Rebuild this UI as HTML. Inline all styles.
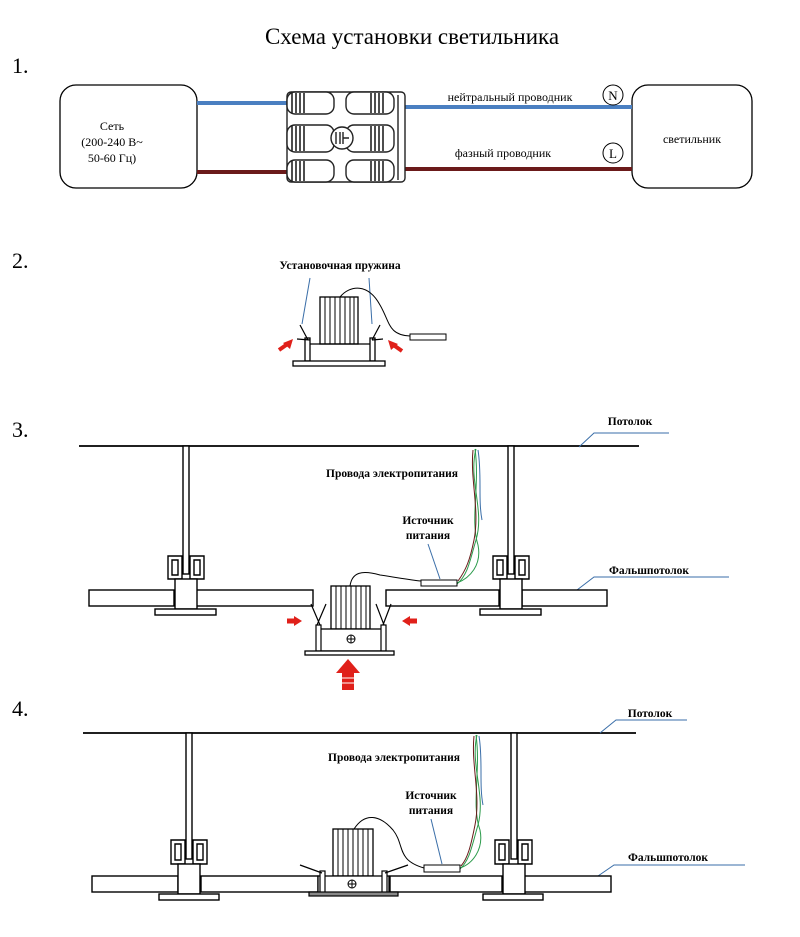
<!DOCTYPE html>
<html><head><meta charset="utf-8"><style>
html,body{margin:0;padding:0;background:#fff;}
svg{display:block;}
text{font-family:"Liberation Serif",serif;fill:#000;}
.b{font-weight:bold;font-size:11.5px;}
</style></head><body>
<svg width="800" height="937" viewBox="0 0 800 937" xmlns="http://www.w3.org/2000/svg">
<text x="412" y="44" font-size="23" text-anchor="middle">Схема установки светильника</text>
<text x="12" y="73" font-size="22">1.</text>
<text x="12" y="268" font-size="22">2.</text>
<text x="12" y="437" font-size="22">3.</text>
<text x="12" y="716" font-size="22">4.</text>

<!-- Section 1 -->
<rect x="60" y="85" width="137" height="103" rx="16" fill="none" stroke="#000" stroke-width="1.3"/>
<text x="112" y="130" font-size="12" text-anchor="middle">Сеть</text>
<text x="112" y="146" font-size="12" text-anchor="middle">(200-240 В~</text>
<text x="112" y="162" font-size="12" text-anchor="middle">50-60 Гц)</text>
<rect x="632" y="85" width="120" height="103" rx="16" fill="none" stroke="#000" stroke-width="1.3"/>
<text x="692" y="143" font-size="12" text-anchor="middle">светильник</text>
<line x1="197" y1="103" x2="287" y2="103" stroke="#4a7fc1" stroke-width="4"/>
<line x1="197" y1="172" x2="287" y2="172" stroke="#6b1a1a" stroke-width="4"/>
<line x1="403" y1="107" x2="632" y2="107" stroke="#4a7fc1" stroke-width="4"/>
<line x1="403" y1="169" x2="632" y2="169" stroke="#6b1a1a" stroke-width="4"/>
<text x="510" y="101" font-size="12" text-anchor="middle">нейтральный проводник</text>
<text x="503" y="157" font-size="12" text-anchor="middle">фазный проводник</text>
<circle cx="613" cy="95" r="10" fill="none" stroke="#000"/>
<text x="613" y="100" font-size="13" text-anchor="middle">N</text>
<circle cx="613" cy="153" r="10" fill="none" stroke="#000"/>
<text x="613" y="158" font-size="13" text-anchor="middle">L</text>
<!-- connector -->
<g fill="#fff" stroke="#222" stroke-width="1.4">
<rect x="287" y="92" width="118" height="90" rx="4"/>
<rect x="287" y="92" width="47" height="22" rx="8"/>
<rect x="346" y="92" width="48" height="22" rx="8"/>
<rect x="287" y="125" width="47" height="27" rx="8"/>
<rect x="346" y="125" width="48" height="27" rx="8"/>
<rect x="287" y="160" width="47" height="22" rx="8"/>
<rect x="346" y="160" width="48" height="22" rx="8"/>
<line x1="398" y1="95" x2="398" y2="180"/>
</g>
<g stroke="#222" stroke-width="1.6">
<path d="M292 93v20M296 93v20M300 93v20M304 93v20M292 126v25M296 126v25M300 126v25M304 126v25M292 161v20M296 161v20M300 161v20M304 161v20"/>
<path d="M371 93v20M375 93v20M379 93v20M383 93v20M371 126v25M375 126v25M379 126v25M383 126v25M371 161v20M375 161v20M379 161v20M383 161v20"/>
</g>
<circle cx="342" cy="138" r="11" fill="#fff" stroke="#222" stroke-width="1.4"/>
<path d="M336 132v12M340 132v12M343 132v12M343 138h6" stroke="#222" stroke-width="1.4" fill="none"/>

<!-- Section 2 -->
<text x="340" y="269" class="b" text-anchor="middle">Установочная пружина</text>
<line x1="310" y1="278" x2="302" y2="324" stroke="#3a6ea8"/>
<line x1="369" y1="278" x2="372" y2="324" stroke="#3a6ea8"/>
<rect x="320" y="297" width="38" height="47" fill="#fff" stroke="#000" stroke-width="1.3"/>
<path d="M325 297v47M330 297v47M335 297v47M340 297v47M345 297v47M350 297v47M354 297v47" stroke="#000"/>
<path d="M340 297 C350 285,368 283,380 305 C390 322,388 335,410 336" fill="none" stroke="#000"/>
<rect x="410" y="334" width="36" height="6" fill="#fff" stroke="#000"/>
<rect x="305" y="338" width="5" height="23" fill="#fff" stroke="#000" stroke-width="1.3"/>
<rect x="370" y="338" width="5" height="23" fill="#fff" stroke="#000" stroke-width="1.3"/>
<line x1="310" y1="344" x2="370" y2="344" stroke="#000" stroke-width="1.3"/>
<path d="M300 325L308 340M297 339L310 340M380 325L372 340M383 339L372 340" stroke="#000" stroke-width="1.2"/>
<rect x="293" y="361" width="92" height="5" fill="#fff" stroke="#000" stroke-width="1.3"/>
<path d="M279 350l10-7" stroke="#e0201a" stroke-width="4"/><path d="M293 339l-3 10l-7-6z" fill="#e0201a"/>
<path d="M402 351l-10-7" stroke="#e0201a" stroke-width="4"/><path d="M388 340l3 10l7-6z" fill="#e0201a"/>

<!-- Section 3 -->
<line x1="79" y1="446" x2="639" y2="446" stroke="#000" stroke-width="1.8"/>
<text x="630" y="425" class="b" text-anchor="middle">Потолок</text>
<path d="M579 447L594 433H669" fill="none" stroke="#3a6ea8"/>
<text x="649" y="574" class="b" text-anchor="middle">Фальшпотолок</text>
<path d="M577 590L594 577H729" fill="none" stroke="#3a6ea8"/>
<g fill="#fff" stroke="#000" stroke-width="1.4">
<rect x="89" y="590" width="85" height="16"/>
<rect x="196" y="590" width="117" height="16"/>
<rect x="386" y="590" width="113" height="16"/>
<rect x="522" y="590" width="85" height="16"/>
</g>
<g id="h3" fill="#fff" stroke="#000" stroke-width="1.4">
<rect x="183" y="446" width="6" height="128"/>
<path d="M168 556h14v23h-14z M190 556h14v23h-14z M172 560h6v15h-6z M194 560h6v15h-6z"/>
<rect x="175" y="579" width="22" height="30"/>
<rect x="155" y="609" width="61" height="6"/>
</g>
<g fill="#fff" stroke="#000" stroke-width="1.4">
<rect x="508" y="446" width="6" height="128"/>
<path d="M493 556h14v23h-14z M515 556h14v23h-14z M497 560h6v15h-6z M519 560h6v15h-6z"/>
<rect x="500" y="579" width="22" height="30"/>
<rect x="480" y="609" width="61" height="6"/>
</g>
<text x="392" y="477" class="b" text-anchor="middle">Провода электропитания</text>
<text x="428" y="524" class="b" text-anchor="middle">Источник</text>
<text x="428" y="539" class="b" text-anchor="middle">питания</text>
<line x1="440" y1="579" x2="428" y2="544" stroke="#3a6ea8"/>
<path d="M476 449C468 480,485 510,476 540C470 560,468 575,457 584" fill="none" stroke="#2a9a4a"/>
<path d="M475 449C480 485,470 520,478 545C482 565,470 578,457 583" fill="none" stroke="#2a9a4a"/>
<path d="M473 450C470 480,480 510,474 540C470 560,466 570,458 581" fill="none" stroke="#6b1a1a"/>
<path d="M478 450C482 475,478 500,482 520" fill="none" stroke="#3a6ea8"/>
<rect x="421" y="580" width="36" height="6" fill="#fff" stroke="#000"/>
<path d="M350 586C352 572,362 570,380 575C400 578,410 580,421 581" fill="none" stroke="#000"/>
<rect x="331" y="586" width="39" height="43" fill="#fff" stroke="#000" stroke-width="1.3"/>
<path d="M336 586v43M341 586v43M346 586v43M351 586v43M356 586v43M361 586v43M366 586v43" stroke="#000"/>
<rect x="318" y="629" width="66" height="22" fill="#fff" stroke="#000" stroke-width="1.3"/>
<rect x="316" y="625" width="5" height="26" fill="#fff" stroke="#000" stroke-width="1.2"/>
<rect x="381" y="625" width="5" height="26" fill="#fff" stroke="#000" stroke-width="1.2"/>
<path d="M311 604L320 625M326 604L317 625M391 604L383 625M376 604L384 625" stroke="#000" stroke-width="1.2"/>
<rect x="305" y="651" width="89" height="4" fill="#fff" stroke="#000" stroke-width="1.3"/>
<circle cx="351" cy="639" r="4" fill="none" stroke="#000"/><path d="M347 639h8M351 635v8" stroke="#000"/>
<path d="M287 621h8" stroke="#e0201a" stroke-width="5"/><path d="M294 616l8 5l-8 5z" fill="#e0201a"/>
<path d="M417 621h-8" stroke="#e0201a" stroke-width="5"/><path d="M410 616l-8 5l8 5z" fill="#e0201a"/>
<rect x="342" y="672" width="12" height="18" fill="#e0201a"/>
<path d="M336 673l12-14l12 14z" fill="#e0201a"/>
<path d="M341 678h14M341 683h14" stroke="#fff" stroke-width="1"/>

<!-- Section 4 -->
<line x1="83" y1="733" x2="636" y2="733" stroke="#000" stroke-width="1.8"/>
<text x="650" y="717" class="b" text-anchor="middle">Потолок</text>
<path d="M600 733L616 720H687" fill="none" stroke="#3a6ea8"/>
<text x="668" y="861" class="b" text-anchor="middle">Фальшпотолок</text>
<path d="M598 876L614 865H745" fill="none" stroke="#3a6ea8"/>
<g fill="#fff" stroke="#000" stroke-width="1.4">
<rect x="92" y="876" width="86" height="16"/>
<rect x="201" y="876" width="117" height="16"/>
<rect x="390" y="876" width="112" height="16"/>
<rect x="524" y="876" width="87" height="16"/>
</g>
<g fill="#fff" stroke="#000" stroke-width="1.4">
<rect x="186" y="733" width="6" height="126"/>
<path d="M171 840h14v24h-14z M193 840h14v24h-14z M175 844h6v16h-6z M197 844h6v16h-6z"/>
<rect x="178" y="864" width="22" height="30"/>
<rect x="159" y="894" width="60" height="6"/>
</g>
<g fill="#fff" stroke="#000" stroke-width="1.4">
<rect x="511" y="733" width="6" height="126"/>
<path d="M495 840h14v24h-14z M518 840h14v24h-14z M499 844h6v16h-6z M522 844h6v16h-6z"/>
<rect x="503" y="864" width="22" height="30"/>
<rect x="483" y="894" width="60" height="6"/>
</g>
<text x="394" y="761" class="b" text-anchor="middle">Провода электропитания</text>
<text x="431" y="799" class="b" text-anchor="middle">Источник</text>
<text x="431" y="814" class="b" text-anchor="middle">питания</text>
<line x1="442" y1="864" x2="431" y2="819" stroke="#3a6ea8"/>
<path d="M477 735C470 765,486 795,478 825C472 845,470 860,460 869" fill="none" stroke="#2a9a4a"/>
<path d="M476 735C481 770,471 805,480 830C484 850,472 864,460 868" fill="none" stroke="#2a9a4a"/>
<path d="M474 736C471 765,481 795,475 825C471 845,468 858,461 866" fill="none" stroke="#6b1a1a"/>
<path d="M479 736C483 760,479 785,483 805" fill="none" stroke="#3a6ea8"/>
<rect x="424" y="865" width="36" height="7" fill="#fff" stroke="#000"/>
<path d="M354 829C365 812,380 815,393 830C405 845,396 860,424 868" fill="none" stroke="#000"/>
<rect x="333" y="829" width="40" height="47" fill="#fff" stroke="#000" stroke-width="1.3"/>
<path d="M338 829v47M343 829v47M348 829v47M353 829v47M358 829v47M363 829v47M368 829v47" stroke="#000"/>
<rect x="318" y="876" width="71" height="17" fill="#fff" stroke="#000" stroke-width="1.3"/>
<rect x="320" y="871" width="5" height="22" fill="#fff" stroke="#000" stroke-width="1.2"/>
<rect x="382" y="871" width="5" height="22" fill="#fff" stroke="#000" stroke-width="1.2"/>
<path d="M300 865L322 873M408 865L385 873" stroke="#000" stroke-width="1.2"/>
<rect x="309" y="892" width="89" height="4" fill="#888" stroke="#000" stroke-width="1.2"/>
<circle cx="352" cy="884" r="4" fill="none" stroke="#000"/><path d="M348 884h8M352 880v8" stroke="#000"/>
</svg>
</body></html>
